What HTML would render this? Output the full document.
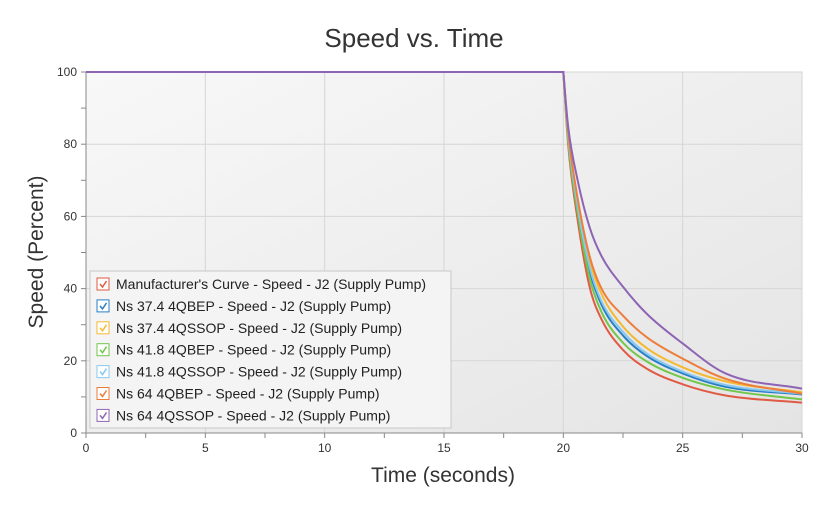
<!DOCTYPE html>
<html><head><meta charset="utf-8"><style>
body{margin:0;background:#fff;width:828px;height:510px;overflow:hidden;font-family:"Liberation Sans",sans-serif}
</style></head><body>
<svg id="chart" width="828" height="510" xmlns="http://www.w3.org/2000/svg">
<defs><linearGradient id="bg" x1="0" y1="0" x2="1" y2="1"><stop offset="0" stop-color="#f8f8f8"/><stop offset="1" stop-color="#e4e4e4"/></linearGradient></defs>
<text x="414" y="47" text-anchor="middle" font-size="26" fill="#333">Speed vs. Time</text>
<rect x="86" y="72" width="716" height="361" fill="url(#bg)" stroke="#ccc"/>
<g id="grid"></g><g id="axes"></g><g id="series"></g>
<text x="443" y="482" text-anchor="middle" font-size="21" fill="#333">Time (seconds)</text>
<text transform="translate(43,252) rotate(-90)" text-anchor="middle" font-size="21" fill="#333">Speed (Percent)</text>
<g id="legend"></g>
</svg>
<script>
const times=[0,20,20.2,20.6,21.1,21.6,22.5,23.5,25,26.8,30];
const seriesNames=["Manufacturer's Curve - Speed - J2 (Supply Pump)","Ns 37.4 4QBEP - Speed - J2 (Supply Pump)","Ns 37.4 4QSSOP - Speed - J2 (Supply Pump)","Ns 41.8 4QBEP - Speed - J2 (Supply Pump)","Ns 41.8 4QSSOP - Speed - J2 (Supply Pump)","Ns 64 4QBEP - Speed - J2 (Supply Pump)","Ns 64 4QSSOP - Speed - J2 (Supply Pump)"];
const colors=["#e05a44","#2a7fc4","#f5b930","#72c64a","#88c8f0","#ee7d3a","#8e64b4"];
const manufacturer=[100,100,80,59,40.5,31.5,23,17.8,13.5,10.4,8.4];
const ns374bep=[100,100,82,62.5,45,35.5,27,21.3,16.5,12.8,10.7];
const ns374ssop=[100,100,83,64,48,38.5,29.5,23.5,18.2,14.3,11.3];
const ns418bep=[100,100,81,61,43,33.5,25,19.8,15.3,12,9.3];
const ns418ssop=[100,100,82.5,63,46,36.5,28,22,17,13.3,10.9];
const ns64bep=[100,100,83.5,65,49,40,32.5,26.5,20.6,15,10.9];
const ns64ssop=[100,100,85,70,57,49,40.5,33,24.8,16.5,12.3];
const seriesValues=[manufacturer,ns374bep,ns374ssop,ns418bep,ns418ssop,ns64bep,ns64ssop];
const xTicks=[0,5,10,15,20,25,30];
const yTicks=[0,20,40,60,80,100];
const NS="http://www.w3.org/2000/svg";
const X=t=>86+t*716/30, Y=v=>433-v*361/100;
function mk(tag,at,parent){const e=document.createElementNS(NS,tag);for(const k in at)e.setAttribute(k,at[k]);parent.appendChild(e);return e;}
const grid=document.getElementById('grid'),axes=document.getElementById('axes');
xTicks.forEach(t=>{
 const g=mk('line',{x1:X(t),x2:X(t),y1:72,y2:433,stroke:'#d6d6d6'},grid);
 
 
 const l=mk('text',{x:X(t),y:452,'text-anchor':'middle','font-size':12,fill:'#333'},axes);l.textContent=t;
 
 
});
for(let t=0;t<=30;t+=2.5){const k=mk('line',{x1:X(t),x2:X(t),y1:433,y2:438,stroke:'#888'},axes);
 
 }
yTicks.forEach(v=>{
 const g=mk('line',{x1:86,x2:802,y1:Y(v),y2:Y(v),stroke:'#d6d6d6'},grid);
 
 
 const l=mk('text',{x:77,y:Y(v)+4,'text-anchor':'end','font-size':12,fill:'#333'},axes);l.textContent=v;
 
 
});
for(let v=0;v<=100;v+=10){const k=mk('line',{x1:81,x2:86,y1:Y(v),y2:Y(v),stroke:'#888'},axes);
 
 }
mk('line',{x1:86,x2:802,y1:433,y2:433,stroke:'#888'},axes);
mk('line',{x1:86,x2:86,y1:72,y2:433,stroke:'#888'},axes);
function path(vals){
 const xs=times.slice(1),ys=vals.slice(1),n=xs.length;
 const d=[],m=new Array(n);
 for(let i=0;i<n-1;i++)d.push((ys[i+1]-ys[i])/(xs[i+1]-xs[i]));
 m[0]=d[0];m[n-1]=d[n-2];
 for(let i=1;i<n-1;i++)m[i]=(d[i-1]*d[i]<=0)?0:(d[i-1]+d[i])/2;
 for(let i=0;i<n-1;i++){if(d[i]===0){m[i]=m[i+1]=0;continue;}
  const a=m[i]/d[i],b=m[i+1]/d[i],s=a*a+b*b;if(s>9){const t=3/Math.sqrt(s);m[i]=t*a*d[i];m[i+1]=t*b*d[i];}}
 let s=`M${X(times[0])},${Y(vals[0])} L${X(xs[0])},${Y(ys[0])}`;
 for(let i=0;i<n-1;i++){
  const h=xs[i+1]-xs[i];
  s+=` C${X(xs[i]+h/3)},${Y(ys[i]+m[i]*h/3)} ${X(xs[i+1]-h/3)},${Y(ys[i+1]-m[i+1]*h/3)} ${X(xs[i+1])},${Y(ys[i+1])}`;
 }
 return s;
}
const ser=document.getElementById('series');
seriesValues.forEach((vals,i)=>{
 const e=mk('path',{d:path(vals),fill:'none',stroke:colors[i],'stroke-width':2},ser);
 
 
});
const lg=document.getElementById('legend');
const box=mk('rect',{x:90,y:271,width:361,height:157,fill:'#f4f4f4',stroke:'#c8c8c8'},lg);


seriesNames.forEach((n,i)=>{
 const y=284+i*21.9;
 const g=mk('g',{},lg);
 
 
 mk('rect',{x:97,y:y-6,width:12,height:12,fill:'#fff',stroke:colors[i]},g);
 mk('path',{d:`M100,${y} l2.5,3 l4,-6`,fill:'none',stroke:colors[i],'stroke-width':1.5},g);
 const t=mk('text',{x:116,y:y+5,'font-size':14,fill:'#222'},g);t.textContent=n;
});
</script>
</body></html>
